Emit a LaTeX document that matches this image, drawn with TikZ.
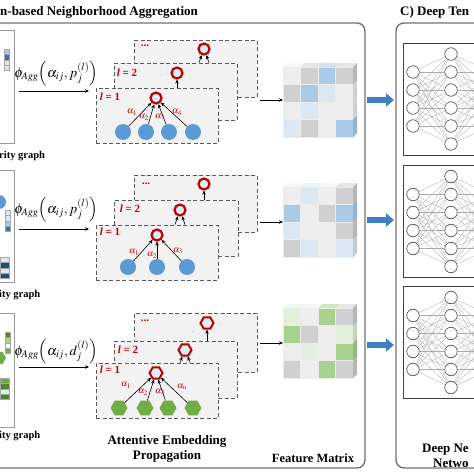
\documentclass[tikz,border=0pt]{standalone}
\usepackage{mathptmx}
\usepackage{fontspec}
\setmainfont{Liberation Serif}
\usetikzlibrary{arrows.meta, shapes.geometric, calc}

\definecolor{dred}{HTML}{C00000}
\definecolor{nblue}{HTML}{5B9BD5}
\definecolor{ngreen}{HTML}{70AD47}
\definecolor{ringfill}{HTML}{DDEEF7}
\definecolor{layfill}{HTML}{F2F2F2}
\definecolor{laygray}{HTML}{595959}
\definecolor{arrblue}{HTML}{3F7FBF}
\definecolor{cblue}{HTML}{A9CBE8}
\definecolor{clblue}{HTML}{DBE8F4}
\definecolor{cgray}{HTML}{D0D0D0}
\definecolor{cwhite}{HTML}{EEEEEE}
\definecolor{cgreen}{HTML}{A9D18E}
\definecolor{clgreen}{HTML}{E2EFD9}
\definecolor{dblue}{HTML}{2E75B6}
\definecolor{navy}{HTML}{1F4E79}
\definecolor{dgreen}{HTML}{548235}

\tikzset{
  panel/.style={draw=gray!90!black, line width=1.4pt, rounded corners=8pt},
  lay/.style={draw=laygray, dash pattern=on 4pt off 2.5pt, line width=0.9pt, fill=layfill},
  ring/.style={circle, draw=dred, line width=2.2pt, fill=ringfill, inner sep=0, minimum size=11pt},
  hexring/.style={regular polygon, regular polygon sides=6, draw=dred, line width=2pt, fill=ringfill, inner sep=0, minimum size=13pt},
  bnode/.style={circle, fill=nblue, inner sep=0, minimum size=16pt},
  gnode/.style={regular polygon, regular polygon sides=6, fill=ngreen, inner sep=0, minimum size=17pt},
  att/.style={-{Stealth[length=4pt,width=3.5pt]}, line width=0.6pt},
  lyr/.style={text=dred, font=\fontsize{11}{12}\selectfont\bfseries, inner sep=0},
  alab/.style={text=dred, font=\fontsize{9}{10}\selectfont, inner sep=0},
  fml/.style={font=\fontsize{14}{16}\selectfont, inner sep=0},
  bold/.style={font=\fontsize{13}{15}\selectfont\bfseries, inner sep=0},
  small bold/.style={font=\fontsize{10.5}{12}\selectfont\bfseries, inner sep=0},
  neuron/.style={circle, draw=black!75, fill=white, line width=0.6pt, inner sep=0, minimum size=12.5pt},
  edge/.style={draw=gray!65, line width=0.3pt},
  bigarr/.style={draw=arrblue, line width=5.5pt, -{Triangle[length=8pt,width=13pt]}},
  minicell/.style={draw=gray!70, line width=0.3pt},
}

% feature matrix: name, top y, 16 colours
\newcommand{\featmat}[3]{
  \foreach \cl [count=\i from 0] in {#3} {
    \pgfmathtruncatemacro{\rr}{\i/4}
    \pgfmathtruncatemacro{\cc}{mod(\i,4)}
    \fill[\cl, draw=white!85!gray, line width=0.4pt] (283+\cc*17.5, #2+\rr*17.5) rectangle ++(17.5,17.5);
    \ifnum\rr=0 \fill[\cl!55!white] (283+\cc*17.5, #2) -- ++(4,-4) -- ++(17.5,0) -- ++(-4,4) -- cycle; \fi
    \ifnum\cc=3 \fill[\cl!88!black] (353, #2+\rr*17.5) -- ++(4,-4) -- ++(0,17.5) -- ++(-4,4) -- cycle; \fi
  }
  \node[inner sep=0, minimum width=70pt, minimum height=70pt, anchor=north west] (#1) at (283,#2) {};
}

% neural network box: prefix, centre y
\newcommand{\nnet}[2]{
  \node[draw=black!75, line width=1pt, minimum width=100pt, minimum height=112pt, anchor=west] (#1box) at (403,#2) {};
  \foreach \k in {1,...,4} \node[neuron] (#1i\k) at (413, #2+\k*18-45) {};
  \foreach \k in {1,...,6} \node[neuron] (#1h\k) at (451, #2+\k*18-63) {};
  \foreach \k in {1,...,4} \coordinate (#1o\k) at (492, #2+\k*18-45);
  \foreach \a in {1,...,4} \foreach \b in {1,...,6} \draw[edge] (#1i\a) -- (#1h\b);
  \foreach \b in {1,...,6} \foreach \a in {1,...,4} \draw[edge] (#1h\b) -- (#1o\a);
}

% small vertical strip of 4 cells: x, top y, width, colours
\newcommand{\minibar}[4]{
  \foreach \cl [count=\i from 0] in {#4}
    \fill[\cl, minicell] (#1, #2+\i*5.4) rectangle ++(#3,5.4);
}

\begin{document}
\begin{tikzpicture}[x=1pt, y=-1pt]
	\useasboundingbox (0,0) rectangle (474,474);
	\fill[white] (0,0) rectangle (474,474);

	\node[bold, anchor=west] (titleB) at (0,12) {n-based Neighborhood Aggregation};
	\node[bold, anchor=west] (titleC) at (400,12) {C) Deep Ten};
	\draw[panel] (-20,23) rectangle (365,468);
	\draw[panel] (396,23) rectangle (520,468);

	% left graphs
	\draw[gray!80, line width=1pt] (-10,30) rectangle (14,143);
	\draw[gray!80, line width=1pt] (-10,170) rectangle (14,282);
	\draw[gray!80, line width=1pt] (-10,313) rectangle (14,427);
	\minibar{4}{49}{5}{cblue,dblue,clblue,clblue}
	\node[bnode, minimum size=14pt] (g2) at (-1,202) {};
	\minibar{5}{210}{5}{clblue,clblue,cblue,dblue}
	\minibar{0}{257}{9}{clblue,navy,clblue,navy}
	\node[gnode, minimum size=14pt] (g3) at (-1,358) {};
	\minibar{5}{332}{5}{dgreen,cgreen,white,ngreen}
	\minibar{0}{378}{9}{ngreen,dgreen,clgreen,dgreen}
	\node[small bold, anchor=west] (sg1) at (-1,156) {rity graph};
	\node[small bold, anchor=west] (sg2) at (-1,295) {ity graph};
	\node[small bold, anchor=west] (sg3) at (-1,436) {ity graph};

	% row 1
	\node[fml] (f1) at (56,74) {$\phi_{Agg}\Bigl(\alpha_{ij},p_j^{(l)}\Bigr)$};
	\coordinate (s1) at (19,91);
	\coordinate (e1) at (89,91);
	\draw[att] (s1) -- (e1);
	\node[lay, minimum width=123pt, minimum height=57pt] (b1c) at (195.5,68.5) {};
	\node[lay, minimum width=123pt, minimum height=57pt] (b1b) at (175.5,91.5) {};
	\node[lay, minimum width=122pt, minimum height=55pt] (b1a) at (157,115.5) {};
	\node[lyr] (t1c) at (145,46) {...};
	\node[lyr] (t1b) at (127,73) {\textit{l} = 2};
	\node[lyr] (t1a) at (110,97) {\textit{l} = 1};
	\node[ring] (r1c) at (204,49) {};
	\node[ring] (r1b) at (177,73) {};
	\node[ring] (r1a) at (156,98) {};
	\foreach \x [count=\k] in {123,146,169,193} {
		\node[bnode] (c1\k) at (\x,132) {};
		\draw[att] (c1\k) -- (r1a);
	}
	\node[alab] (a11) at (132,112) {$\alpha_1$};
	\node[alab] (a12) at (144,117) {$\alpha_2$};
	\node[alab] (a13) at (160,117) {$\alpha_3$};
	\node[alab] (a14) at (177,112) {$\alpha_4$};
	\draw[att] (r1b |- b1a.north) -- (r1b);
	\draw[att] ([xshift=-5pt]r1c |- b1b.north) -- (r1c);
	\draw[att] ([xshift=5pt]r1c |- b1b.north) -- (r1c);

	% row 2
	\node[fml] (f2) at (56,210) {$\phi_{Agg}\Bigl(\alpha_{ij},p_j^{(l)}\Bigr)$};
	\coordinate (s2) at (19,229);
	\coordinate (e2) at (89,229);
	\draw[att] (s2) -- (e2);
	\node[lay, minimum width=123pt, minimum height=57pt] (b2c) at (195.5,203.5) {};
	\node[lay, minimum width=124pt, minimum height=56pt] (b2b) at (176,228) {};
	\node[lay, minimum width=122pt, minimum height=55pt] (b2a) at (157,252.5) {};
	\node[lyr] (t2c) at (146,184) {...};
	\node[lyr] (t2b) at (130,209) {\textit{l} = 2};
	\node[lyr] (t2a) at (110,232) {\textit{l} = 1};
	\node[ring] (r2c) at (204,184) {};
	\node[ring] (r2b) at (180,210) {};
	\node[ring] (r2a) at (157,235) {};
	\foreach \x [count=\k] in {128,157,187} {
		\node[bnode] (c2\k) at (\x,267) {};
		\draw[att] (c2\k) -- (r2a);
	}
	\node[alab] (a21) at (134,252) {$\alpha_1$};
	\node[alab] (a22) at (152,255) {$\alpha_2$};
	\node[alab] (a23) at (178,251) {$\alpha_3$};
	\draw[att] (r2c |- b2b.north) -- (r2c);
	\draw[att] ([xshift=-5pt]r2b |- b2a.north) -- (r2b);
	\draw[att] ([xshift=5pt]r2b |- b2a.north) -- (r2b);

	% row 3
	\node[fml] (f3) at (56,352) {$\phi_{Agg}\Bigl(\alpha_{ij},d_j^{(l)}\Bigr)$};
	\coordinate (s3) at (19,367);
	\coordinate (e3) at (89,367);
	\draw[att] (s3) -- (e3);
	\node[lay, minimum width=123pt, minimum height=59pt] (b3c) at (195.5,342.5) {};
	\node[lay, minimum width=123pt, minimum height=57pt] (b3b) at (175.5,369.5) {};
	\node[lay, minimum width=122pt, minimum height=55pt] (b3a) at (157,390.5) {};
	\node[lyr] (t3c) at (145,321) {...};
	\node[lyr] (t3b) at (128,350) {\textit{l} = 2};
	\node[lyr] (t3a) at (110,370) {\textit{l} = 1};
	\node[hexring] (r3c) at (207,323) {};
	\node[hexring] (r3b) at (185,350) {};
	\node[hexring] (r3a) at (156,373) {};
	\foreach \x [count=\k] in {119,145,168,193} {
		\node[gnode] (c3\k) at (\x,408) {};
		\draw[att] (c3\k) -- (r3a);
	}
	\node[alab] (a31) at (126,385) {$\alpha_1$};
	\node[alab] (a32) at (143,392) {$\alpha_2$};
	\node[alab] (a33) at (160,392) {$\alpha_3$};
	\node[alab] (a34) at (182,387) {$\alpha_n$};
	\draw[att] (r3c |- b3b.north) -- (r3c);
	\draw[att] ([xshift=-5pt]r3b |- b3a.north) -- (r3b);
	\draw[att] ([xshift=5pt]r3b |- b3a.north) -- (r3b);

	\node[bold, align=center] (aep) at (167,449) {Attentive Embedding\\Propagation};

	% feature matrices
	\featmat{fm1}{67}{cwhite,cgray,cblue,cgray,cgray,cblue,clblue,cwhite,cwhite,clblue,cwhite,cwhite,clblue,cgray,cwhite,cblue}
	\featmat{fm2}{187}{cwhite,clblue,cwhite,cgray,cblue,cwhite,cgray,cblue,clblue,cwhite,cwhite,cgray,cgray,clblue,cwhite,clblue}
	\featmat{fm3}{308}{clgreen,cwhite,cgreen,cgray,cgreen,cgray,cwhite,clgreen,cwhite,clgreen,cwhite,cgreen,cgray,cwhite,cgreen,cgray}
	\coordinate (m1) at (260,100);
	\coordinate (m2) at (260,222);
	\coordinate (m3) at (260,343);
	\draw[att] (m1) -- (fm1.west |- m1);
	\draw[att] (m2) -- (fm2.west |- m2);
	\draw[att] (m3) -- (fm3.west |- m3);
	\node[bold, font=\fontsize{12.5}{14}\selectfont\bfseries] (fmt) at (313,458) {Feature Matrix};

	% deep networks
	\nnet{n1}{99}
	\nnet{n2}{221.5}
	\nnet{n3}{342.5}
	\coordinate (u1) at (367,100);
	\coordinate (v1) at (394,100);
	\coordinate (u2) at (367,220);
	\coordinate (v2) at (394,220);
	\coordinate (u3) at (367,345);
	\coordinate (v3) at (394,345);
	\draw[bigarr] (u1) -- (v1);
	\draw[bigarr] (u2) -- (v2);
	\draw[bigarr] (u3) -- (v3);
	\node[bold, anchor=west] (dn1) at (422,450) {Deep Ne};
	\node[bold, anchor=west] (dn2) at (433,463) {Netwo};
\end{tikzpicture}
\end{document}
